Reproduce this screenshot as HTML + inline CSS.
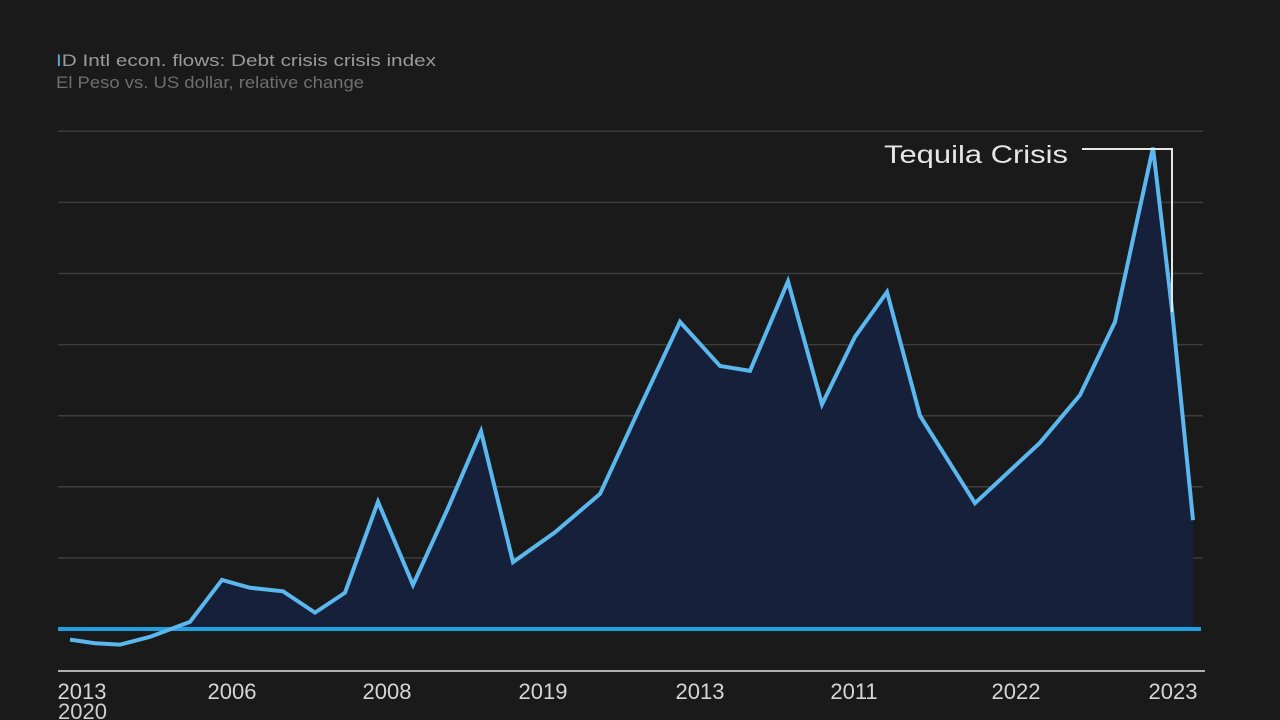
<!DOCTYPE html>
<html><head><meta charset="utf-8"><style>
html,body{margin:0;padding:0;background:#1a1a1a;}
svg{display:block;font-family:"Liberation Sans",sans-serif;}
</style></head><body>
<svg id="chart" width="1280" height="720">
<rect width="1280" height="720" fill="#1a1a1a"/>
<text x="56" y="66" font-size="17" fill="#9a9a9a" textLength="380" lengthAdjust="spacingAndGlyphs"><tspan fill="#5aa9d6">I</tspan>D  Intl econ. flows: Debt crisis crisis index</text>
<text x="56" y="88" font-size="17" fill="#6f6f6f" textLength="308" lengthAdjust="spacingAndGlyphs">El  Peso vs. US dollar, relative change</text>
<g id="grid"></g>
<g id="series"></g>
<line x1="58" y1="671" x2="1205" y2="671" stroke="#b0b0b0" stroke-width="2"/>
<g id="xlabels"></g>
<text x="884" y="163" font-size="25" fill="#e6e6e6" textLength="184" lengthAdjust="spacingAndGlyphs">Tequila Crisis</text>
<polyline points="1082,149 1172,149 1172,312" fill="none" stroke="#e6e6e6" stroke-width="2"/>
<text x="58" y="719" font-size="22" fill="#cfcfcf">2020</text>
</svg>
<script>
const times=[7.0,9.5,12.0,15.0,19.0,22.2,25.0,28.3,31.5,34.5,37.8,41.3,44.8,48.1,51.3,55.5,60.0,64.0,68.0,72.0,75.0,78.8,82.2,85.5,88.7,92.0,97.5,104.0,108.0,111.5,115.3,117.2,119.3];
const values=[-0.15,-0.2,-0.22,-0.11,0.1,0.69,0.58,0.53,0.23,0.51,1.79,0.62,1.7,2.78,0.94,1.36,1.9,3.12,4.32,3.7,3.63,4.89,3.16,4.11,4.74,3.0,1.77,2.62,3.29,4.32,6.77,4.49,1.53];
const gridValues=[1,2,3,4,5,6,7];
const tickLabels=["2013","2006","2008","2019","2013","2011","2022","2023"];
const tickPos=[8.2,23.2,38.7,54.3,70.0,85.4,101.6,117.3];
const X=t=>t*10, Y=v=>629-v*71.1;
const NS="http://www.w3.org/2000/svg";
const grid=document.getElementById('grid'),ser=document.getElementById('series'),xl=document.getElementById('xlabels');
gridValues.forEach(g=>{const l=document.createElementNS(NS,'line');
l.setAttribute('x1',58);l.setAttribute('x2',1203);l.setAttribute('y1',Y(g));l.setAttribute('y2',Y(g));
l.setAttribute('stroke','#3d3d3d');l.setAttribute('stroke-width','1.5');


grid.appendChild(l);});
const pts=times.map((t,i)=>X(t)+','+Y(values[i])).join(' ');
const defs=document.createElementNS(NS,'defs');
defs.innerHTML='<clipPath id="c"><rect x="0" y="0" width="1280" height="'+Y(0)+'"/></clipPath>';
ser.appendChild(defs);
const area=document.createElementNS(NS,'polygon');
area.setAttribute('points',X(times[0])+','+Y(0)+' '+pts+' '+X(times[times.length-1])+','+Y(0));
area.setAttribute('fill','#16203a');area.setAttribute('clip-path','url(#c)');


ser.appendChild(area);
const base=document.createElementNS(NS,'line');
base.setAttribute('x1',58);base.setAttribute('x2',1201);base.setAttribute('y1',Y(0));base.setAttribute('y2',Y(0));
base.setAttribute('stroke','#1fa0e0');base.setAttribute('stroke-width','4');


ser.appendChild(base);
const line=document.createElementNS(NS,'polyline');
line.setAttribute('points',pts);line.setAttribute('fill','none');line.setAttribute('stroke','#5ab8ee');
line.setAttribute('stroke-width','4');line.setAttribute('stroke-linejoin','miter');


ser.appendChild(line);
tickLabels.forEach((s,i)=>{const t=document.createElementNS(NS,'text');
t.setAttribute('x',X(tickPos[i]));t.setAttribute('y',699);t.setAttribute('text-anchor','middle');
t.setAttribute('font-size','22');t.setAttribute('fill','#d6d6d6');t.textContent=s;


xl.appendChild(t);});
</script>
</body></html>
